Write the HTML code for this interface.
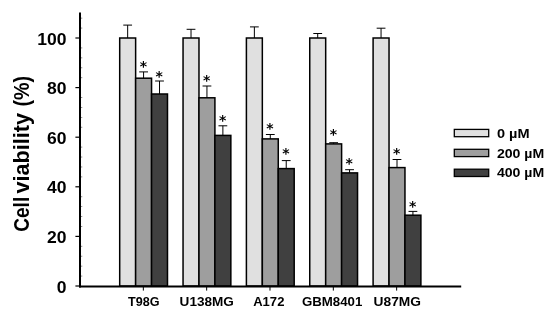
<!DOCTYPE html>
<html lang="en"><head><meta charset="utf-8"><title>Cell viability</title>
<style>
.ast{font-family:"DejaVu Sans","Liberation Sans",sans-serif;font-size:14px;}
.yt{font-size:16.6px;}
.xl{font-size:13.2px;}
.lg{font-size:12.4px;}
.yl{font-size:21.5px;}
html,body{margin:0;padding:0;background:#fff;}
body{width:550px;height:315px;overflow:hidden;}
svg{display:block;}
text{font-family:"Liberation Sans",sans-serif;font-weight:bold;fill:#000;}
</style></head><body>
<svg width="550" height="315" viewBox="0 0 550 315">
<rect width="550" height="315" fill="#fff"/>
<rect x="119.70" y="38.00" width="15.93" height="248.00" fill="#e0e0e0" stroke="#000" stroke-width="1.5"/>
<path d="M127.67 38.00V25.10M123.27 25.10H132.06" stroke="#000" stroke-width="1" fill="none"/>
<rect x="135.63" y="78.20" width="15.93" height="207.80" fill="#9e9e9e" stroke="#000" stroke-width="1.5"/>
<path d="M143.59 78.20V71.90M139.19 71.90H148.00" stroke="#000" stroke-width="1" fill="none"/>
<text class="ast" x="143.29" y="71.20" text-anchor="middle">*</text>
<rect x="151.56" y="94.00" width="15.93" height="192.00" fill="#404040" stroke="#000" stroke-width="1.5"/>
<path d="M159.53 94.00V81.00M155.12 81.00H163.93" stroke="#000" stroke-width="1" fill="none"/>
<text class="ast" x="159.22" y="81.40" text-anchor="middle">*</text>
<rect x="183.05" y="38.00" width="15.93" height="248.00" fill="#e0e0e0" stroke="#000" stroke-width="1.5"/>
<path d="M191.02 38.00V29.30M186.62 29.30H195.42" stroke="#000" stroke-width="1" fill="none"/>
<rect x="198.98" y="97.80" width="15.93" height="188.20" fill="#9e9e9e" stroke="#000" stroke-width="1.5"/>
<path d="M206.95 97.80V86.00M202.55 86.00H211.35" stroke="#000" stroke-width="1" fill="none"/>
<text class="ast" x="206.65" y="85.30" text-anchor="middle">*</text>
<rect x="214.91" y="135.40" width="15.93" height="150.60" fill="#404040" stroke="#000" stroke-width="1.5"/>
<path d="M222.88 135.40V125.80M218.48 125.80H227.28" stroke="#000" stroke-width="1" fill="none"/>
<text class="ast" x="222.58" y="124.70" text-anchor="middle">*</text>
<rect x="246.40" y="38.00" width="15.93" height="248.00" fill="#e0e0e0" stroke="#000" stroke-width="1.5"/>
<path d="M254.37 38.00V26.90M249.97 26.90H258.76" stroke="#000" stroke-width="1" fill="none"/>
<rect x="262.33" y="138.90" width="15.93" height="147.10" fill="#9e9e9e" stroke="#000" stroke-width="1.5"/>
<path d="M270.29 138.90V134.50M265.89 134.50H274.69" stroke="#000" stroke-width="1" fill="none"/>
<text class="ast" x="269.99" y="132.70" text-anchor="middle">*</text>
<rect x="278.26" y="168.60" width="15.93" height="117.40" fill="#404040" stroke="#000" stroke-width="1.5"/>
<path d="M286.22 168.60V160.60M281.82 160.60H290.62" stroke="#000" stroke-width="1" fill="none"/>
<text class="ast" x="285.92" y="158.10" text-anchor="middle">*</text>
<rect x="309.75" y="38.00" width="15.93" height="248.00" fill="#e0e0e0" stroke="#000" stroke-width="1.5"/>
<path d="M317.71 38.00V33.50M313.31 33.50H322.11" stroke="#000" stroke-width="1" fill="none"/>
<rect x="325.68" y="143.90" width="15.93" height="142.10" fill="#9e9e9e" stroke="#000" stroke-width="1.5"/>
<path d="M333.64 143.90V142.70M329.25 142.70H338.04" stroke="#000" stroke-width="1" fill="none"/>
<text class="ast" x="333.34" y="139.40" text-anchor="middle">*</text>
<rect x="341.61" y="172.90" width="15.93" height="113.10" fill="#404040" stroke="#000" stroke-width="1.5"/>
<path d="M349.57 172.90V169.70M345.18 169.70H353.97" stroke="#000" stroke-width="1" fill="none"/>
<text class="ast" x="349.27" y="167.70" text-anchor="middle">*</text>
<rect x="373.10" y="38.00" width="15.93" height="248.00" fill="#e0e0e0" stroke="#000" stroke-width="1.5"/>
<path d="M381.06 38.00V28.20M376.67 28.20H385.46" stroke="#000" stroke-width="1" fill="none"/>
<rect x="389.03" y="167.60" width="15.93" height="118.40" fill="#9e9e9e" stroke="#000" stroke-width="1.5"/>
<path d="M397.00 167.60V159.50M392.60 159.50H401.39" stroke="#000" stroke-width="1" fill="none"/>
<text class="ast" x="396.69" y="157.70" text-anchor="middle">*</text>
<rect x="404.96" y="215.20" width="15.93" height="70.80" fill="#404040" stroke="#000" stroke-width="1.5"/>
<path d="M412.93 215.20V211.40M408.53 211.40H417.32" stroke="#000" stroke-width="1" fill="none"/>
<text class="ast" x="412.62" y="210.90" text-anchor="middle">*</text>
<path d="M80 12.4V287.4" stroke="#000" stroke-width="2" fill="none"/>
<path d="M79 286.5H461.2" stroke="#000" stroke-width="2" fill="none"/>
<path d="M75.4 286.00H80" stroke="#000" stroke-width="1.2"/>
<path d="M75.4 236.40H80" stroke="#000" stroke-width="1.2"/>
<path d="M75.4 186.80H80" stroke="#000" stroke-width="1.2"/>
<path d="M75.4 137.20H80" stroke="#000" stroke-width="1.2"/>
<path d="M75.4 87.60H80" stroke="#000" stroke-width="1.2"/>
<path d="M75.4 38.00H80" stroke="#000" stroke-width="1.2"/>
<path d="M80 276.08H82.3" stroke="#000" stroke-width="0.7" opacity="0.65"/>
<path d="M80 266.16H82.3" stroke="#000" stroke-width="0.7" opacity="0.65"/>
<path d="M80 256.24H82.3" stroke="#000" stroke-width="0.7" opacity="0.65"/>
<path d="M80 246.32H82.3" stroke="#000" stroke-width="0.7" opacity="0.65"/>
<path d="M80 226.48H82.3" stroke="#000" stroke-width="0.7" opacity="0.65"/>
<path d="M80 216.56H82.3" stroke="#000" stroke-width="0.7" opacity="0.65"/>
<path d="M80 206.64H82.3" stroke="#000" stroke-width="0.7" opacity="0.65"/>
<path d="M80 196.72H82.3" stroke="#000" stroke-width="0.7" opacity="0.65"/>
<path d="M80 176.88H82.3" stroke="#000" stroke-width="0.7" opacity="0.65"/>
<path d="M80 166.96H82.3" stroke="#000" stroke-width="0.7" opacity="0.65"/>
<path d="M80 157.04H82.3" stroke="#000" stroke-width="0.7" opacity="0.65"/>
<path d="M80 147.12H82.3" stroke="#000" stroke-width="0.7" opacity="0.65"/>
<path d="M80 127.28H82.3" stroke="#000" stroke-width="0.7" opacity="0.65"/>
<path d="M80 117.36H82.3" stroke="#000" stroke-width="0.7" opacity="0.65"/>
<path d="M80 107.44H82.3" stroke="#000" stroke-width="0.7" opacity="0.65"/>
<path d="M80 97.52H82.3" stroke="#000" stroke-width="0.7" opacity="0.65"/>
<path d="M80 77.68H82.3" stroke="#000" stroke-width="0.7" opacity="0.65"/>
<path d="M80 67.76H82.3" stroke="#000" stroke-width="0.7" opacity="0.65"/>
<path d="M80 57.84H82.3" stroke="#000" stroke-width="0.7" opacity="0.65"/>
<path d="M80 47.92H82.3" stroke="#000" stroke-width="0.7" opacity="0.65"/>
<path d="M80 28.08H82.3" stroke="#000" stroke-width="0.7" opacity="0.65"/>
<path d="M80 18.16H82.3" stroke="#000" stroke-width="0.7" opacity="0.65"/>
<path d="M143.33 286.0V290.6" stroke="#000" stroke-width="1"/>
<path d="M206.66 286.0V290.6" stroke="#000" stroke-width="1"/>
<path d="M269.99 286.0V290.6" stroke="#000" stroke-width="1"/>
<path d="M333.32 286.0V290.6" stroke="#000" stroke-width="1"/>
<path d="M396.65 286.0V290.6" stroke="#000" stroke-width="1"/>
<text class="yt" x="66.6" y="292.50" text-anchor="end" textLength="9.75" lengthAdjust="spacingAndGlyphs">0</text>
<text class="yt" x="66.6" y="242.90" text-anchor="end" textLength="19.50" lengthAdjust="spacingAndGlyphs">20</text>
<text class="yt" x="66.6" y="193.30" text-anchor="end" textLength="19.50" lengthAdjust="spacingAndGlyphs">40</text>
<text class="yt" x="66.6" y="143.70" text-anchor="end" textLength="19.50" lengthAdjust="spacingAndGlyphs">60</text>
<text class="yt" x="66.6" y="94.10" text-anchor="end" textLength="19.50" lengthAdjust="spacingAndGlyphs">80</text>
<text class="yt" x="66.6" y="44.50" text-anchor="end" textLength="29.25" lengthAdjust="spacingAndGlyphs">100</text>
<text class="xl" x="128.10" y="306.1" textLength="31.50" lengthAdjust="spacingAndGlyphs">T98G</text>
<text class="xl" x="179.60" y="306.1" textLength="54.30" lengthAdjust="spacingAndGlyphs">U138MG</text>
<text class="xl" x="253.20" y="306.1" textLength="31.20" lengthAdjust="spacingAndGlyphs">A172</text>
<text class="xl" x="301.90" y="306.1" textLength="60.40" lengthAdjust="spacingAndGlyphs">GBM8401</text>
<text class="xl" x="373.60" y="306.1" textLength="47.40" lengthAdjust="spacingAndGlyphs">U87MG</text>
<rect x="454.3" y="129.40" width="34.4" height="7.3" fill="#e0e0e0" stroke="#000" stroke-width="1.3"/>
<text class="lg" x="496.9" y="137.60" textLength="32.6" lengthAdjust="spacingAndGlyphs">0 µM</text>
<rect x="454.3" y="149.30" width="34.4" height="7.3" fill="#9e9e9e" stroke="#000" stroke-width="1.3"/>
<text class="lg" x="496.9" y="157.50" textLength="47.3" lengthAdjust="spacingAndGlyphs">200 µM</text>
<rect x="454.3" y="169.20" width="34.4" height="7.3" fill="#404040" stroke="#000" stroke-width="1.3"/>
<text class="lg" x="496.9" y="177.40" textLength="47.3" lengthAdjust="spacingAndGlyphs">400 µM</text>
<g transform="translate(28.5 231.8) rotate(-90)"><text class="yl" x="0" y="0" textLength="35" lengthAdjust="spacingAndGlyphs">Cell</text><text class="yl" x="38.3" y="0" textLength="80.5" lengthAdjust="spacingAndGlyphs">viability</text><text class="yl" x="125.3" y="0" textLength="30.6" lengthAdjust="spacingAndGlyphs">(%)</text></g>
</svg></body></html>
